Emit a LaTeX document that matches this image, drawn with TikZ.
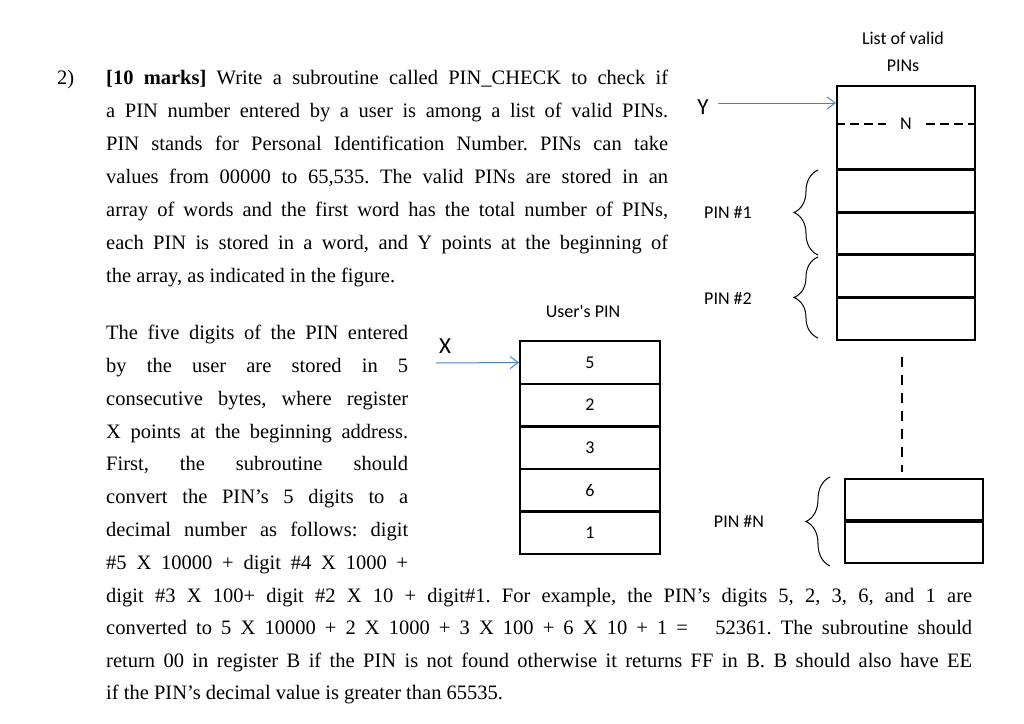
\documentclass[tikz,border=0pt]{standalone}
\usepackage{fontspec}
\setmainfont{Liberation Serif}
\newfontfamily\lbl{Carlito}
\usetikzlibrary{decorations.pathreplacing,arrows.meta}
\newcommand{\jl}[2]{\makebox[#1pt][s]{#2}}
\definecolor{arrc}{HTML}{4F81BD}
\begin{document}
\frenchspacing
\begin{tikzpicture}[x=1pt,y=-1pt,
  tx/.style={anchor=base west,inner sep=0pt,font=\fontsize{20.5}{24}\selectfont},
  lb/.style={inner sep=0pt,font=\lbl\fontsize{18}{22}\selectfont},
  cell/.style={draw,line width=2pt,minimum width=140pt,minimum height=43pt,inner sep=0pt,font=\lbl\fontsize{18}{22}\selectfont},
  cellr/.style={draw,line width=2.2pt,minimum width=138pt,minimum height=43pt,inner sep=0pt},
  arr/.style={draw=arrc,line width=1pt,-{Straight Barb[length=8pt,width=12pt]}},
  br/.style={decorate,decoration={brace,amplitude=24pt,aspect=0.5},line width=1pt}]
\useasboundingbox (0,0) rectangle (1024,723);
% text
\node[tx] (n2) at (57,84) {2)};
\node[tx] (l1) at (106,84) {\jl{562}{\textbf{[10 marks]} Write a subroutine called PIN\_CHECK to check if}};
\node[tx] (l2) at (106,117) {\jl{562}{a PIN number entered by a user is among a list of valid PINs.}};
\node[tx] (l3) at (106,150) {\jl{562}{PIN stands for Personal Identification Number. PINs can take}};
\node[tx] (l4) at (106,183) {\jl{562}{values from 00000 to 65,535. The valid PINs are stored in an}};
\node[tx] (l5) at (106,216) {\jl{562}{array of words and the first word has the total number of PINs,}};
\node[tx] (l6) at (106,249) {\jl{562}{each PIN is stored in a word, and Y points at the beginning of}};
\node[tx] (l7) at (106,282) {the array, as indicated in the figure.};
\node[tx] (m1) at (106,339) {\jl{302}{The five digits of the PIN entered}};
\node[tx] (m2) at (106,372) {\jl{302}{by the user are stored in 5}};
\node[tx] (m3) at (106,405) {\jl{302}{consecutive bytes, where register}};
\node[tx] (m4) at (106,438) {\jl{302}{X points at the beginning address.}};
\node[tx] (m5) at (106,470) {\jl{302}{First, the subroutine should}};
\node[tx] (m6) at (106,503) {\jl{302}{convert the PIN's 5 digits to a}};
\node[tx] (m7) at (106,536) {\jl{302}{decimal number as follows: digit}};
\node[tx] (m8) at (106,569) {\jl{302}{\#5 X 10000 + digit \#4 X 1000 +}};
\node[tx] (f1) at (106,602) {\jl{866}{digit \#3 X 100+ digit \#2 X 10 + digit\#1. For example, the PIN's digits 5, 2, 3, 6, and 1 are}};
\node[tx] (f2) at (106,634) {\jl{866}{converted to 5 X 10000 + 2 X 1000 + 3 X 100 + 6 X 10 + 1 = \ \ 52361. The subroutine should}};
\node[tx] (f3) at (106,667) {\jl{866}{return 00 in register B if the PIN is not found otherwise it returns FF in B. B should also have EE}};
\node[tx] (f4) at (106,699) {if the PIN's decimal value is greater than 65535.};
% user's PIN
\node[lb] (up) at (583,311) {User's PIN};
\node[lb,font=\lbl\fontsize{23}{26}\selectfont] (X) at (445,346) {X};
\node[cell] (c1) at (590,362.5) {5};
\node[cell] (c2) at (590,405) {2};
\node[cell] (c3) at (590,447.5) {3};
\node[cell] (c4) at (590,490) {6};
\node[cell] (c5) at (590,532.5) {1};
\coordinate (xs) at (436,363);
\draw[arr] (xs) -- (c1.west);
% list of valid PINs
\node[lb] (lv) at (903,38) {List of valid};
\node[lb] (lp) at (903,66) {PINs};
\node[lb,font=\lbl\fontsize{23}{26}\selectfont] (Y) at (703,107) {Y};
\node[draw,line width=2.2pt,minimum width=138pt,minimum height=83pt,inner sep=0pt] (top) at (906,127.5) {};
\node[lb,fill=white,inner xsep=14pt] (N) at (906,124) {N};
\draw[line width=2pt,dash pattern=on 9pt off 5pt] (top.west |- N) -- (N.west);
\draw[line width=2pt,dash pattern=on 9pt off 5pt] (N.east) -- (top.east |- N);
\coordinate (ys) at (718,103);
\draw[arr] (ys) -- (top.west |- ys);
\node[cellr] (p1) at (906,191) {};
\node[cellr] (p2) at (906,233.5) {};
\node[cellr] (p3) at (906,276) {};
\node[cellr] (p4) at (906,318.5) {};
\node[cellr] (pn1) at (914,500.5) {};
\node[cellr] (pn2) at (914,541.5) {};
\draw[line width=2.5pt,dash pattern=on 10pt off 8pt] (902,357) -- (902,472);
\node[lb] (P1) at (728,212) {PIN \#1};
\node[lb] (P2) at (728,298) {PIN \#2};
\node[lb] (PN) at (739,521) {PIN \#N};
\draw[br] (818,255) -- (818,170);
\draw[br] (818,338) -- (818,257);
\draw[br] (830,566) -- (830,477);
\end{tikzpicture}
\end{document}
